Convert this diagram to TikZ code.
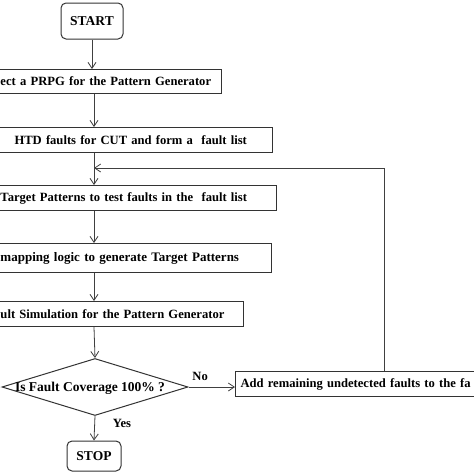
\documentclass[tikz,border=0pt]{standalone}
\usepackage{fontspec}
\setmainfont{Liberation Serif}
\usetikzlibrary{arrows.meta,shapes.geometric}
\newcommand{\lft}[1]{\makebox[\linewidth][l]{#1}}
\begin{document}
\begin{tikzpicture}[x=1pt,y=-1pt,
  font=\bfseries\fontsize{12.6}{15}\selectfont,
  box/.style={draw=black!80, line width=1pt, rectangle, inner ysep=0pt, anchor=north east, align=left},
  rbox/.style={draw=black!80, line width=1pt, rectangle, rounded corners=5pt, inner sep=0pt},
  arr/.style={draw=black!75, line width=0.8pt, -{Straight Barb[length=6pt,width=8pt]}}]
\useasboundingbox (0,0) rectangle (474,474);
\fill[white] (0,0) rectangle (474,474);
\clip (0,0) rectangle (474,474);
\coordinate (c) at (94,0);
\node[rbox, minimum width=62pt, minimum height=36pt, font=\bfseries\fontsize{13.5}{15}\selectfont] (start) at (92,21) {START};
\node[box, inner xsep=12pt, text width=209pt, minimum height=24pt] (b1) at (222,69) {\lft{ect a PRPG for the Pattern Generator}};
\node[box, inner xsep=26pt, text width=232pt, minimum height=25pt] (b2) at (273,127) {\lft{HTD faults for CUT and form a\ \ fault list}};
\node[box, inner xsep=30pt, text width=246pt, minimum height=25pt] (b3) at (277,185) {\lft{Target Patterns to test faults in the\ \ fault list}};
\node[box, inner xsep=33pt, text width=238pt, minimum height=29pt, font=\bfseries\fontsize{13}{15}\selectfont] (b4) at (272,243) {\lft{mapping logic to generate Target Patterns}};
\node[box, inner xsep=16pt, text width=227pt, minimum height=25pt] (b5) at (244,301) {\lft{ult Simulation for the Pattern Generator}};
\node[diamond, draw=black!80, line width=1pt, minimum width=186pt, minimum height=57pt, inner sep=0pt] (d) at (95,387) {};
\node[font=\bfseries\fontsize{13.5}{15}\selectfont] (dt) at (90,388) {Is Fault Coverage 100\% ?};
\node[box, anchor=north west, inner xsep=5pt, text width=300pt, minimum height=25pt] (add) at (235,371) {\lft{Add remaining undetected faults to the fa}};
\node[rbox, minimum width=54pt, minimum height=30pt, font=\bfseries\fontsize{13.5}{15}\selectfont] (stop) at (94,456) {STOP};
\coordinate (j) at (94,168);
\coordinate (k) at (384,168);
\draw[arr] (start.south) -- (start.south |- b1.north);
\draw[arr] (c |- b1.south) -- (c |- b2.north);
\draw[arr] (c |- b2.south) -- (c |- b3.north);
\draw[arr] (c |- b3.south) -- (c |- b4.north);
\draw[arr] (c |- b4.south) -- (c |- b5.north);
\draw[arr] (c |- b5.south) -- (d.north);
\draw[arr] (d.south) -- (stop.north);
\draw[arr] (d.east) -- (d.east -| add.west) node[pos=0.25, above=3pt] (no) {No};
\draw[arr] (k |- add.north) -- (k) -- (j);
\node (yes) at (122,423) {Yes};
\end{tikzpicture}
\end{document}
